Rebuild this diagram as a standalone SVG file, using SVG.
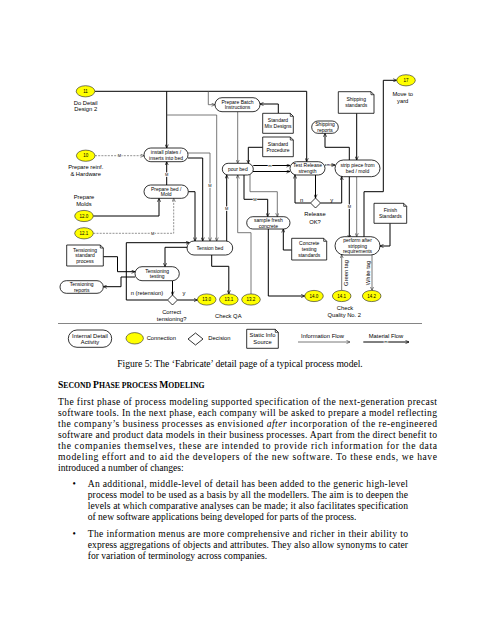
<svg xmlns="http://www.w3.org/2000/svg" width="495" height="640" viewBox="0 0 495 640">
<defs>
<style>
.act{fill:#fff;stroke:#000;stroke-width:0.8}
.note{fill:#fff;stroke:#000;stroke-width:0.8}
.fold{fill:none;stroke:#000;stroke-width:0.7}
.cn{fill:#ffff00;stroke:#222;stroke-width:0.6}
.dm{fill:#fff;stroke:#000;stroke-width:0.8}
text{font-family:"Liberation Sans",Arial,sans-serif;fill:#000}
.bt{font-size:5px;text-anchor:middle}
.lb{font-size:5.8px;text-anchor:middle}
.ct{font-size:4.5px;text-anchor:middle}
.fl{font-size:4px;text-anchor:middle;stroke:#fff;stroke-width:1.4px;paint-order:stroke}
.m{fill:none;stroke:#000;stroke-width:1}
.i{fill:none;stroke:#555;stroke-width:0.8}
.d{fill:none;stroke:#777;stroke-width:0.8;stroke-dasharray:2 1.2}
.body{font-family:"Liberation Serif","Times New Roman",serif;font-size:9.6px}
</style>
<marker id="am" viewBox="0 0 8 8" refX="7.5" refY="4" markerWidth="4" markerHeight="4" markerUnits="userSpaceOnUse" orient="auto"><path d="M0.5,0.8L7.5,4L0.5,7.2" fill="none" stroke="#000" stroke-width="1.3"/></marker>
<marker id="ai" viewBox="0 0 8 8" refX="7.5" refY="4" markerWidth="4" markerHeight="4" markerUnits="userSpaceOnUse" orient="auto"><path d="M0.5,0.8L7.5,4L0.5,7.2" fill="none" stroke="#444" stroke-width="1.3"/></marker>
</defs>

<g id="connectors">
<path class="m" d="M95,91.3H306.7V161.7" marker-end="url(#am)"/>
<path class="m" d="M166.7,91.3V148" marker-end="url(#am)"/>
<path class="i" d="M208.3,91.3V104.7H215" marker-end="url(#ai)"/>
<path class="i" d="M166.7,115H216.7V241" marker-end="url(#ai)"/>
<path class="d" d="M95,155.7H144" marker-end="url(#ai)"/>
<path class="m" d="M166.7,185V161.7" marker-end="url(#am)"/>
<path class="m" d="M93.3,216H159V198.3" marker-end="url(#am)"/>
<path class="d" d="M93.3,233.3H173.7V198.3" marker-end="url(#ai)"/>
<path class="m" d="M188.3,191.7H195V241" marker-end="url(#am)"/>
<path class="i" d="M188,153H210V241" marker-end="url(#ai)"/>
<path class="m" d="M188,158H202.7V241" marker-end="url(#am)"/>
<path class="m" d="M226.7,241V175" marker-end="url(#am)"/>
<path class="i" d="M237.7,111.7V163.3" marker-end="url(#ai)"/>
<path class="m" d="M262.7,147.3H248.3V163.3" marker-end="url(#am)"/>
<path class="m" d="M278.3,113.3V104H260" marker-end="url(#am)"/>
<path class="m" d="M253.3,165.5H290" marker-end="url(#am)"/>
<path class="m" d="M253,171.5H290" marker-end="url(#am)"/>
<path class="m" d="M244,175V199.3H267.7V216.7" marker-end="url(#am)"/>
<path class="i" d="M250,174.5V191.7H277.3V216.7" marker-end="url(#ai)"/>
<path class="i" d="M251,293.9V232.7H237.7V175" marker-end="url(#ai)"/>
<path class="m" d="M325,165H335" marker-end="url(#am)"/>
<path class="m" d="M315.5,175V198" marker-end="url(#am)"/>
<path class="m" d="M310.5,203H295V175" marker-end="url(#am)"/>
<path class="m" d="M320.5,203H341.7V176.5" marker-end="url(#am)"/>
<path class="m" d="M349.3,162.4V147.3H325V133.3" marker-end="url(#am)"/>
<path class="m" d="M356.7,113.3V160" marker-end="url(#am)"/>
<path class="m" d="M349.3,174.2V238.3" marker-end="url(#am)"/>
<path class="i" d="M356.7,176.7V236.7" marker-end="url(#ai)"/>
<path class="m" d="M364,239.8V191.7H383.3V80.3H396.7" marker-end="url(#am)"/>
<path class="m" d="M390,223.3V246H380" marker-end="url(#am)"/>
<path class="i" d="M341.7,290.4V254.7" marker-end="url(#ai)"/>
<path class="i" d="M372,254.9V290.4" marker-end="url(#ai)"/>
<path class="m" d="M268.3,229V296H304.7" marker-end="url(#am)"/>
<path class="m" d="M291.7,250H283.3V229" marker-end="url(#am)"/>
<path class="m" d="M187.5,247.3H165V266.7" marker-end="url(#am)"/>
<path class="m" d="M167.5,300H126.3V242.7H189.4" marker-end="url(#am)"/>
<path class="m" d="M172.5,280.7V295" marker-end="url(#am)"/>
<path class="m" d="M177.5,300H197.4" marker-end="url(#am)"/>
<path class="m" d="M103.3,256.7H117.5V271.7H135" marker-end="url(#am)"/>
<path class="m" d="M135,277H121V286.7H103.3" marker-end="url(#am)"/>
<path class="m" d="M211.7,255V266.3H228.8V293.9" marker-end="url(#am)"/>
<text class="fl" x="119.3" y="157.1">M</text>
<text class="fl" x="166.7" y="175.8">M</text>
<text class="fl" x="152.7" y="234.7">M</text>
<text class="fl" x="210" y="187.4">M</text>
<text class="fl" x="226.7" y="210.4">M</text>
<text class="fl" x="270" y="166.9">m</text>
<text class="fl" x="255" y="200.7">M</text>
<text class="fl" x="328.5" y="166.4">m</text>
<text class="fl" x="349.3" y="208.4">M</text>
<text class="lb" x="301.7" y="201.6">n</text>
<text class="lb" x="331.7" y="201.6">y</text>
<text class="lb" x="147" y="295.4">n (retension)</text>
<text class="lb" x="184" y="295.4">y</text>
<text class="lb" transform="translate(347.8,273) rotate(-90)">Green tag</text>
<text class="lb" transform="translate(370,273) rotate(-90)">White tag</text>
</g>

<g id="n11"><ellipse class="cn" cx="85.5" cy="91.3" rx="9.3" ry="5.6"/><text class="ct" x="85.5" y="92.9">11</text><text class="lb" x="85.7" y="104.8">Do Detail</text><text class="lb" x="85.7" y="111.4">Design 2</text></g>
<g id="n10"><ellipse class="cn" cx="85.7" cy="155.7" rx="9.3" ry="5.6"/><text class="ct" x="85.7" y="157.3">10</text><text class="lb" x="85.7" y="168.8">Prepare reinf.</text><text class="lb" x="85.7" y="176.1">&amp; Hardware</text></g>
<g id="molds"><text class="lb" x="84" y="199.4">Prepare</text><text class="lb" x="84" y="205.8">Molds</text></g>
<g id="n12_0"><ellipse class="cn" cx="84" cy="216" rx="9.3" ry="5.6"/><text class="ct" x="84" y="217.6">12.0</text></g>
<g id="n12_1"><ellipse class="cn" cx="84" cy="233.3" rx="9.3" ry="5.6"/><text class="ct" x="84" y="234.9">12.1</text></g>
<g id="n13_0"><ellipse class="cn" cx="206.7" cy="299.5" rx="9.3" ry="5.6"/><text class="ct" x="206.7" y="301.1">13.0</text></g>
<g id="n13_1"><ellipse class="cn" cx="228.8" cy="299.5" rx="9.3" ry="5.6"/><text class="ct" x="228.8" y="301.1">13.1</text></g>
<g id="n13_2"><ellipse class="cn" cx="251" cy="299.5" rx="9.3" ry="5.6"/><text class="ct" x="251" y="301.1">13.2</text></g>
<g id="checkqa"><text class="lb" x="228.3" y="318.1">Check QA</text></g>
<g id="n14_0"><ellipse class="cn" cx="314" cy="296" rx="9.3" ry="5.6"/><text class="ct" x="314" y="297.6">14.0</text></g>
<g id="n14_1"><ellipse class="cn" cx="341.7" cy="296" rx="9.3" ry="5.6"/><text class="ct" x="341.7" y="297.6">14.1</text></g>
<g id="n14_2"><ellipse class="cn" cx="371.7" cy="296" rx="9.3" ry="5.6"/><text class="ct" x="371.7" y="297.6">14.2</text></g>
<g id="checkq2"><text class="lb" x="345" y="310.4">Check</text><text class="lb" x="344.3" y="317.1">Quality No. 2</text></g>
<g id="n17"><ellipse class="cn" cx="406" cy="80.3" rx="9.3" ry="5.6"/><text class="ct" x="406" y="81.9">17</text><text class="lb" x="402.7" y="96.1">Move to</text><text class="lb" x="402.7" y="103.4">yard</text></g>

<g id="install"><rect class="act" x="144" y="148" width="44" height="13.7" rx="6.85"/><text class="bt" x="166" y="153.8">install plates /</text><text class="bt" x="166" y="159.5">inserts into bed</text></g>
<g id="prepbed"><rect class="act" x="144" y="185" width="44.3" height="13.3" rx="6.65"/><text class="bt" x="166.2" y="190.6">Prepare bed /</text><text class="bt" x="166.2" y="196.3">Mold</text></g>
<g id="batch"><rect class="act" x="215" y="97.7" width="45" height="14" rx="7"/><text class="bt" x="237.5" y="103.6">Prepare Batch</text><text class="bt" x="237.5" y="109.3">Instructions</text></g>
<g id="pour"><rect class="act" x="222.3" y="163.3" width="31" height="11.7" rx="5.85"/><text class="bt" x="237.8" y="170.9">pour bed</text></g>
<g id="testrel"><rect class="act" x="290" y="161.7" width="35" height="13.3" rx="6.65"/><text class="bt" x="307.5" y="167.3">Test Release</text><text class="bt" x="307.5" y="173">strength</text></g>
<g id="strip"><rect class="act" x="335" y="160" width="45" height="16.7" rx="8.35"/><text class="bt" x="357.5" y="167.3">strip piece from</text><text class="bt" x="357.5" y="173">bed / mold</text></g>
<g id="shiprep"><rect class="act" x="311.7" y="121" width="26.6" height="12.3" rx="6.15"/><text class="bt" x="325" y="126.1">Shipping</text><text class="bt" x="325" y="131.8">reports</text></g>
<g id="sample"><rect class="act" x="246.7" y="216.7" width="43.3" height="12.3" rx="6.15"/><text class="bt" x="268.4" y="221.8">sample fresh</text><text class="bt" x="268.4" y="227.5">concrete</text></g>
<g id="tensionbed"><rect class="act" x="187" y="241" width="45.7" height="14" rx="7"/><text class="bt" x="209.9" y="249.8">Tension bed</text></g>
<g id="perform"><rect class="act" x="335" y="236.7" width="45" height="18.3" rx="9.15"/><text class="bt" x="357.5" y="242">perform after</text><text class="bt" x="357.5" y="247.7">stripping</text><text class="bt" x="357.5" y="253.4">requirements</text></g>
<g id="testing"><rect class="act" x="135" y="266.7" width="44.3" height="14" rx="7"/><text class="bt" x="157.2" y="272.6">Tensioning</text><text class="bt" x="157.2" y="278.3">testing</text></g>
<g id="tensrep"><rect class="act" x="60" y="280.7" width="43.3" height="12.6" rx="6.3"/><text class="bt" x="81.7" y="285.9">Tensioning</text><text class="bt" x="81.7" y="291.6">reports</text></g>

<g id="mix"><path class="note" d="M262.7,113.3H290.3L293.3,116.3V133.3H262.7Z"/><path class="fold" d="M290.3,113.3V116.3H293.3"/><text class="bt" x="278" y="122.2">Standard</text><text class="bt" x="278" y="127.9">Mix Designs</text></g>
<g id="proc"><path class="note" d="M262.7,137H290.3L293.3,140V156.7H262.7Z"/><path class="fold" d="M290.3,137V140H293.3"/><text class="bt" x="278" y="145.8">Standard</text><text class="bt" x="278" y="151.5">Procedure</text></g>
<g id="shipstd"><path class="note" d="M338.3,91.7H371L374,94.7V113.3H338.3Z"/><path class="fold" d="M371,91.7V94.7H374"/><text class="bt" x="356.2" y="101.4">Shipping</text><text class="bt" x="356.2" y="107.1">standards</text></g>
<g id="concstd"><path class="note" d="M291.7,238.3H323.7L326.7,241.3V260H291.7Z"/><path class="fold" d="M323.7,238.3V241.3H326.7"/><text class="bt" x="309.2" y="245.3">Concrete</text><text class="bt" x="309.2" y="251">testing</text><text class="bt" x="309.2" y="256.7">standards</text></g>
<g id="finish"><path class="note" d="M374,203.3H403.7L406.7,206.3V223.3H374Z"/><path class="fold" d="M403.7,203.3V206.3H406.7"/><text class="bt" x="390.3" y="212.2">Finish</text><text class="bt" x="390.3" y="217.9">Standards</text></g>
<g id="tensstd"><path class="note" d="M66.7,245H100.3L103.3,248V266H66.7Z"/><path class="fold" d="M100.3,245V248H103.3"/><text class="bt" x="85" y="251.6">Tensioning</text><text class="bt" x="85" y="257.3">standard</text><text class="bt" x="85" y="263">process</text></g>

<g id="release"><polygon class="dm" points="315.5,198 320.5,203 315.5,208 310.5,203"/><text class="lb" x="315" y="216.1">Release</text><text class="lb" x="315" y="223.8">OK?</text></g>
<g id="correct"><polygon class="dm" points="172.5,295 177.5,300 172.5,305 167.5,300"/><text class="lb" x="171.7" y="313.8">Correct</text><text class="lb" x="171.7" y="321.4">tensioning?</text></g>

<g id="legend">
<path d="M58,323.5H422" stroke="#666" stroke-width="0.8" fill="none"/>
<rect class="act" x="68.3" y="330" width="43.4" height="17.3" rx="8.65"/>
<text class="lb" x="90" y="337.5">Internal Detail</text><text class="lb" x="90" y="344">Activity</text>
<ellipse class="cn" cx="134.7" cy="338.3" rx="8.7" ry="5.7"/>
<text class="lb" x="146.7" y="340.4" style="text-anchor:start">Connection</text>
<polygon class="dm" points="195.5,333 203,339 195.5,345 188,339"/>
<text class="lb" x="208.3" y="340.4" style="text-anchor:start">Decision</text>
<path class="note" d="M246.7,329.3H275.3L278.3,332.3V348.3H246.7Z"/><path class="fold" d="M275.3,329.3V332.3H278.3"/>
<text class="lb" x="262.5" y="337.3">Static Info</text><text class="lb" x="262.5" y="344.3">Source</text>
<text class="lb" x="322.5" y="338.1">Information Flow</text>
<path class="i" d="M298,342H350" marker-end="url(#ai)"/>
<text class="lb" x="386" y="338.1">Material Flow</text>
<path class="m" d="M363.3,342H409" marker-end="url(#am)"/>
<text class="fl" x="386" y="343.4">m</text>
</g>

<g id="text">
<text class="body" x="240" y="367" text-anchor="middle">Figure 5: The ‘Fabricate’ detail page of a typical process model.</text>
<text class="body" x="58" y="387.6" font-weight="bold"><tspan font-size="9.6">S</tspan><tspan font-size="7.7">ECOND </tspan><tspan font-size="9.6">P</tspan><tspan font-size="7.7">HASE PROCESS </tspan><tspan font-size="9.6">M</tspan><tspan font-size="7.7">ODELING</tspan></text>
<text class="body" x="58" y="405.2" textLength="379" lengthAdjust="spacing">The first phase of process modeling supported specification of the next-generation precast</text>
<text class="body" x="58" y="416.2" textLength="379" lengthAdjust="spacing">software tools. In the next phase, each company will be asked to prepare a model reflecting</text>
<text class="body" x="58" y="427.2" textLength="379" lengthAdjust="spacing">the company’s business processes as envisioned <tspan font-style="italic">after</tspan> incorporation of the re-engineered</text>
<text class="body" x="58" y="438.2" textLength="379" lengthAdjust="spacing">software and product data models in their business processes. Apart from the direct benefit to</text>
<text class="body" x="58" y="449.2" textLength="379" lengthAdjust="spacing">the companies themselves, these are intended to provide rich information for the data</text>
<text class="body" x="58" y="460.2" textLength="379" lengthAdjust="spacing">modeling effort and to aid the developers of the new software. To these ends, we have</text>
<text class="body" x="58" y="471.2">introduced a number of changes:</text>
<text class="body" x="72.6" y="486.8">•</text>
<text class="body" x="87.7" y="486.8" textLength="320.3" lengthAdjust="spacing">An additional, middle-level of detail has been added to the generic high-level</text>
<text class="body" x="87.7" y="497.8" textLength="320.3" lengthAdjust="spacing">process model to be used as a basis by all the modellers. The aim is to deepen the</text>
<text class="body" x="87.7" y="508.8" textLength="320.3" lengthAdjust="spacing">levels at which comparative analyses can be made; it also facilitates specification</text>
<text class="body" x="87.7" y="519.8">of new software applications being developed for parts of the process.</text>
<text class="body" x="72.6" y="537.2">•</text>
<text class="body" x="87.7" y="537.2" textLength="320.3" lengthAdjust="spacing">The information menus are more comprehensive and richer in their ability to</text>
<text class="body" x="87.7" y="548.2" textLength="320.3" lengthAdjust="spacing">express aggregations of objects and attributes. They also allow synonyms to cater</text>
<text class="body" x="87.7" y="559.2">for variation of terminology across companies.</text>
</g>
</svg>
